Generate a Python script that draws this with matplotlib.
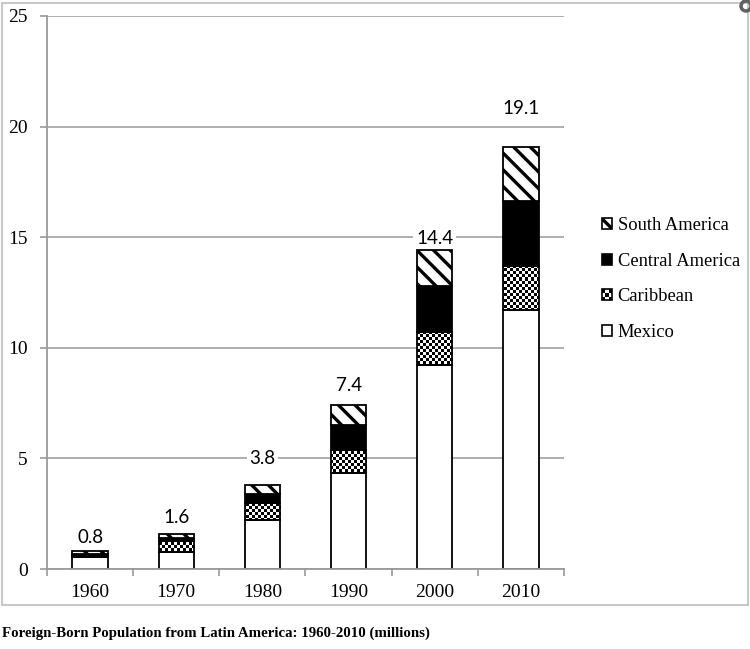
import numpy as np
import matplotlib
matplotlib.use("Agg")
import matplotlib.pyplot as plt
from matplotlib.patches import Rectangle, Ellipse, Patch
from matplotlib.legend_handler import HandlerBase

# data (millions)
years = ["1960", "1970", "1980", "1990", "2000", "2010"]
mexico = [0.55, 0.78, 2.22, 4.32, 9.20, 11.73]
caribbean = [0.10, 0.47, 0.76, 1.06, 1.51, 1.96]
central = [0.05, 0.14, 0.43, 1.14, 2.07, 2.93]
south = [0.10, 0.21, 0.39, 0.88, 1.62, 2.48]
totals = [0.8, 1.6, 3.8, 7.4, 14.4, 19.1]
label_offsets = [0.64, 0.71, 1.19, 0.9, 0.52, 1.7]
yticks = [0, 5, 10, 15, 20, 25]

serif = "Liberation Serif"
plt.rcParams["hatch.linewidth"] = 2.4
plt.rcParams["hatch.color"] = "black"

fig = plt.figure(figsize=(7.5, 6.49), dpi=100)
ax = fig.add_axes([47 / 750, 1 - 569 / 649, 517 / 750, 553 / 649])

x = np.arange(len(years))
w = 0.41
b1 = np.array(mexico)
b2 = b1 + np.array(caribbean)
b3 = b2 + np.array(central)

bar_mex = ax.bar(x, mexico, w, color="white", edgecolor="black", lw=1.3, zorder=2)
bar_car = ax.bar(x, caribbean, w, bottom=b1, facecolor="none", edgecolor="black", lw=1.3, zorder=2)
bar_cen = ax.bar(x, central, w, bottom=b2, color="black", edgecolor="black", lw=1.3, zorder=2)
bar_sou = ax.bar(x, south, w, bottom=b3, facecolor="white", edgecolor="black",
                 hatch="\\\\", lw=1.3, zorder=2)

ax.set_xlim(-0.5, 5.5)
ax.set_ylim(0, 25)

# checkerboard texture for the Caribbean segments
rows, cols = 553 // 3, 517 // 3
ii, jj = np.indices((rows, cols))
checker = ((ii + jj) % 2).astype(float)
for p in bar_car.patches:
    im = ax.imshow(checker, cmap="gray", extent=(-0.5, 5.5, 0, 25), aspect="auto",
                   interpolation="nearest", zorder=1.5)
    im.set_clip_path(p)

# total labels sit under the bars so their white box only hides gridlines
for xi, t, off in zip(x, totals, label_offsets):
    ax.text(xi, t + off, f"{t}", ha="center", va="center", fontsize=13.5, family="Lato",
            bbox=dict(facecolor="white", edgecolor="none", pad=2), zorder=1.2)

ax.set_yticks(yticks)
ax.set_yticklabels([str(v) for v in yticks], family=serif, fontsize=14)
ax.set_xticks(x)
ax.set_xticklabels(years, family=serif, fontsize=14)
ax.set_xticks(np.arange(-0.5, 6, 1), minor=True)
ax.tick_params(axis="x", which="major", length=0, pad=11)
ax.tick_params(axis="x", which="minor", length=5, color="#9a9a9a", width=1.2)
ax.tick_params(axis="y", length=5, color="#9a9a9a", width=1.2, pad=9)
ax.yaxis.grid(True, color="#a8a8a8", lw=1.3)
ax.set_axisbelow(True)
for s in ["top", "right"]:
    ax.spines[s].set_visible(False)
for s in ["left", "bottom"]:
    ax.spines[s].set_color("#9a9a9a")
    ax.spines[s].set_linewidth(1.3)


class CheckerHandler(HandlerBase):
    def create_artists(self, legend, orig_handle, xd, yd, width, height, fontsize, trans):
        arts = [Rectangle((-xd, -yd), width, height, fc="white", ec="none", transform=trans)]
        n = 3
        for i in range(n):
            for j in range(n):
                if (i + j) % 2 == 0:
                    arts.append(Rectangle((-xd + i * width / n, -yd + j * height / n),
                                          width / n, height / n, fc="black", ec="none",
                                          transform=trans))
        arts.append(Rectangle((-xd, -yd), width, height, fc="none", ec="black", lw=1.2,
                              transform=trans))
        return arts


h_sou = Patch(facecolor="white", edgecolor="black", hatch="\\\\", lw=1.2)
h_cen = Patch(facecolor="black", edgecolor="black", lw=1.2)
h_car = Patch(facecolor="white", edgecolor="black")
h_mex = Patch(facecolor="white", edgecolor="black", lw=1.2)
fig.legend([h_sou, h_cen, h_car, h_mex],
           ["South America", "Central America", "Caribbean", "Mexico"],
           handler_map={h_car: CheckerHandler()},
           loc="center left", bbox_to_anchor=(602 / 750, 1 - 279 / 649),
           frameon=False, prop={"family": serif, "size": 13.3},
           handlelength=0.55, handleheight=0.55, handletextpad=0.3,
           labelspacing=1.0, borderpad=0, borderaxespad=0)

fig.text(2 / 750, 1 - 633 / 649, "Foreign-Born Population from Latin America: 1960-2010 (millions)",
         family=serif, weight="bold", fontsize=10.7, ha="left", va="center")

# outer frame of the screenshot
fig.add_artist(Rectangle((2 / 750, 1 - 605 / 649), 746 / 750, 602 / 649,
                         transform=fig.transFigure, fill=False, ec="#c8c8c8", lw=1.5))
fig.add_artist(Ellipse((746 / 750, 1 - 6 / 649), 10 / 750, 10 / 649,
                       transform=fig.transFigure, fill=False, ec="#606060", lw=2.5))

fig.savefig("out.png", dpi=100)
